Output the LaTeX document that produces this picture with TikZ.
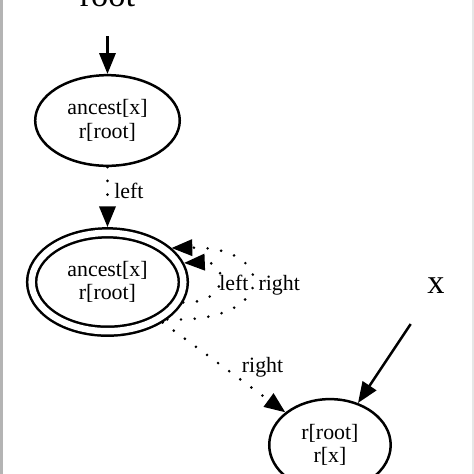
\documentclass[tikz,border=0pt]{standalone}
\usepackage{fontspec}
\setmainfont{Liberation Serif}
\usetikzlibrary{arrows.meta, positioning, shapes.geometric}
\definecolor{cframe}{HTML}{B4B4B4}
\definecolor{cedge}{HTML}{E6E6E6}
\tikzset{
  every picture/.style={line width=1.2pt},
  state/.style={draw, ellipse, align=center, inner sep=0pt, font=\fontsize{10.5}{11.2}\selectfont},
  arrow/.style={-{Triangle[length=10pt, width=7.8pt]}},
  dots/.style={arrow, dash pattern=on 0pt off 6.6pt, line cap=round, line width=1.4pt},
  tag/.style={font=\fontsize{10.5}{11.2}\selectfont, inner sep=0pt},
  bigtag/.style={font=\fontsize{16.5}{18}\selectfont, inner sep=0pt},
}

\begin{document}
\begin{tikzpicture}
  \useasboundingbox (-1.814, 2.034) rectangle (6.186, -5.966);
  \fill[cframe] (-1.814, 2.034) rectangle (-1.768, -5.966);
  \fill[cedge] (6.160, 2.034) rectangle (6.178, -5.966);
  % states
  \node[bigtag, anchor=base] (root) at (0, 1.916) {root};
  \node[state, minimum width=2.44cm, minimum height=1.53cm] (n1) at (0, 0) {ancest[x]\\r[root]};
  \node[state, double, double distance=3.1pt, outer sep=2.75pt, minimum width=2.56cm, minimum height=1.66cm] (n2) at (0, -2.726) {ancest[x]\\r[root]};
  \node[state, minimum width=2.05cm, minimum height=1.55cm] (n3) at (3.755, -5.477) {r[root]\\r[x]};
  \node[bigtag, anchor=base] (xin) at (5.544, -2.928) {x};
  % transitions
  \draw[arrow, shorten <=13.4pt] (root) -- (n1);
  \draw[dots] (n1) -- (n2) node[tag, pos=.4, right=2.6pt] {left};
  \draw[dots] (n2.-15) .. controls +(0.78,-0.03) and +(0.76,0.03) .. (n2.14) node[tag, pos=.5, right=0pt] {left};
  \draw[dots] (n2.-32) .. controls +(1.85,-0.08) and +(1.82,0.03) .. (n2.28) node[tag, pos=.5, right=3pt] {right};
  \draw[dots] (n2) -- (n3) node[tag, midway, right=7.9pt] {right};
  \draw[arrow, shorten <=16.6pt] (xin) -- (n3);
\end{tikzpicture}
\end{document}
